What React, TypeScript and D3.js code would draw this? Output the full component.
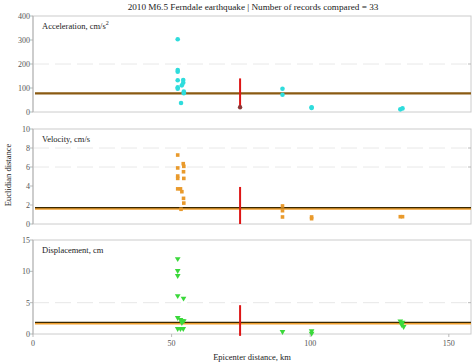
import React from "react";
import * as d3 from "d3";

const title = "2010 M6.5 Ferndale earthquake | Number of records compared = 33";
const xTicks = [0, 50, 100, 150];

const accX = [52.2, 52.2, 52.2, 52.2, 54.2, 54.2, 53.7, 52.2, 52.2, 54.4, 54.4, 53.4, 90, 90, 100.5, 100.5, 132.5, 133.3];
const accY = [303, 175, 168, 132, 133, 122, 111, 103, 97, 85, 78, 37.5, 97, 72, 20, 17, 11, 15];

const velX = [52.2, 54.2, 54.4, 52.2, 54.3, 52.2, 52.2, 54.4, 52.2, 53.2, 53.7, 54.3, 54.4, 53.4, 90, 90, 90, 100.5, 100.5, 132.5, 133.3];
const velY = [7.26, 6.35, 6.07, 5.9, 5.5, 5.05, 4.8, 4.8, 3.7, 3.7, 3.4, 2.7, 2.2, 1.55, 1.9, 1.4, 0.74, 0.74, 0.56, 0.77, 0.77];

const dispX = [52.2, 52.2, 52.2, 52.2, 54.3, 52.2, 53.2, 54.0, 54.4, 53.7, 52.2, 53.2, 54.2, 90, 100.5, 100.5, 132.5, 133.3, 133.7, 133.0];
const dispY = [12.0, 10.1, 9.3, 6.1, 5.7, 2.6, 2.3, 2.1, 2.1, 1.8, 0.85, 0.85, 0.85, 0.37, 0.48, 0.1, 2.07, 1.86, 1.17, 1.5];

const panelLabels = ["Acceleration, cm/s", "Velocity, cm/s", "Displacement, cm"];
const yMax = [400, 10, 15];
const yTicks = [[0, 100, 200, 300, 400], [0, 2, 4, 6, 8, 10], [0, 5, 10, 15]];
const gridVals = [[200], [6, 8], [5]];
const refLevel = [78, 1.7, 1.8];
const redX = 74.7;
const redTop = [140, 3.9, 4.6];
const redBottom = [20, 0, -0.3];

const W = 474, H = 364;
const left = 33, right = 471;
const panels = [
  { top: 16, bottom: 112 },
  { top: 129, bottom: 224 },
  { top: 240, bottom: 334 },
];
const font = "'Liberation Serif', 'DejaVu Serif', serif";

export default function App() {
  const x = d3.scaleLinear().domain([0, 158]).range([left, right]);
  const series = [
    { xs: accX, ys: accY, color: "#2fdcdc", shape: "circle" },
    { xs: velX, ys: velY, color: "#e99a2c", shape: "square" },
    { xs: dispX, ys: dispY, color: "#3ad83a", shape: "tri" },
  ];
  const tri = d3.symbol().type(d3.symbolTriangle).size(14)() as string;
  return (
    <svg width={W} height={H} style={{ position: "absolute", left: 0, top: 0, background: "#fff" }} fontFamily={font}>
      <rect x={0} y={0} width={W} height={H} fill="#fff" />
      <text x={253} y={10} textAnchor="middle" fontSize={9.2} fill="#222">{title}</text>
      {panels.map((p, i) => {
        const y = d3.scaleLinear().domain([0, yMax[i]]).range([p.bottom, p.top]);
        const s = series[i];
        return (
          <g key={i}>
            <rect x={left} y={p.top} width={right - left} height={p.bottom - p.top} fill="none" stroke="#cccccc" strokeWidth={1} />
            {gridVals[i].map((g) => (
              <g key={g}>
                <line x1={left} x2={right} y1={y(g)} y2={y(g)} stroke="#e2e2e2" strokeWidth={0.8} strokeDasharray="16,6" />
                <line x1={right - 3} x2={right} y1={y(g)} y2={y(g)} stroke="#aaa" strokeWidth={0.8} />
              </g>
            ))}
            <line x1={left} x2={left} y1={p.top} y2={p.bottom} stroke="#aaa" strokeWidth={0.8} />
            {yTicks[i].map((t) => (
              <g key={t}>
                <line x1={left - 3} x2={left} y1={y(t)} y2={y(t)} stroke="#aaa" strokeWidth={0.8} />
                <text x={left - 3} y={y(t) + 3} textAnchor="end" fontSize={8} fill="#555">{t}</text>
              </g>
            ))}
            <text x={42} y={p.top + 13} fontSize={8.5} fill="#222">
              {panelLabels[i]}
              {i === 0 && <tspan dy={-4} fontSize={6}>2</tspan>}
            </text>
            {i === 0 ? (
              <line x1={left + 2} x2={right} y1={y(refLevel[i])} y2={y(refLevel[i])} stroke="#8a5a12" strokeWidth={2.2} />
            ) : (
              <g>
                <line x1={left + 2} x2={right} y1={y(refLevel[i]) + 0.6} y2={y(refLevel[i]) + 0.6} stroke="#f0a030" strokeWidth={2.4} />
                <line x1={left + 2} x2={right} y1={y(refLevel[i]) - 0.3} y2={y(refLevel[i]) - 0.3} stroke="#3a2800" strokeWidth={1.3} />
              </g>
            )}
            <line x1={x(redX)} x2={x(redX)} y1={y(redTop[i])} y2={Math.min(y(redBottom[i]), p.bottom + 2)} stroke="#dd1515" strokeWidth={2} />
            {i === 0 && <circle cx={x(redX)} cy={y(redBottom[i])} r={2.2} fill="#8a3a3a" />}
            {s.xs.map((xv, k) => {
              const cx = x(xv), cy = y(s.ys[k]);
              if (s.shape === "circle") return <circle key={k} cx={cx} cy={cy} r={2.3} fill={s.color} />;
              if (s.shape === "square") return <rect key={k} x={cx - 1.8} y={cy - 1.8} width={3.6} height={3.6} fill={s.color} />;
              return <path key={k} d={tri} transform={`translate(${cx},${cy}) rotate(180)`} fill={s.color} />;
            })}
          </g>
        );
      })}
      {xTicks.map((t) => (
        <g key={t}>
          <line x1={x(t)} x2={x(t)} y1={334} y2={337} stroke="#aaa" strokeWidth={0.8} />
          <text x={x(t)} y={346} textAnchor="middle" fontSize={8} fill="#555">{t}</text>
        </g>
      ))}
      <text x={252} y={360} textAnchor="middle" fontSize={8.5} fill="#222">Epicenter distance, km</text>
      <text transform="translate(11,175) rotate(-90)" textAnchor="middle" fontSize={8.5} fill="#222">Euclidian distance</text>
    </svg>
  );
}
